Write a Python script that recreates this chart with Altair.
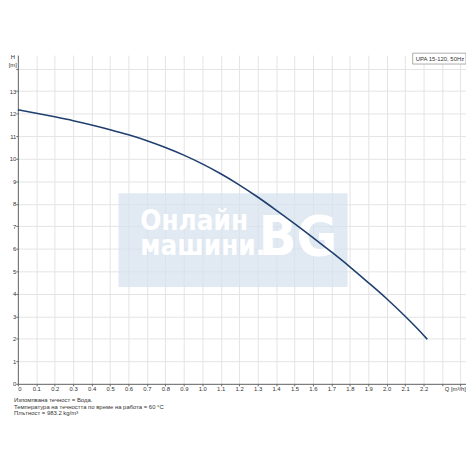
import altair as alt
import pandas as pd

# Pump curve data
q_values = [0.0, 0.1, 0.2, 0.3, 0.4, 0.5, 0.6, 0.7, 0.8, 0.9, 1.0, 1.1,
            1.2, 1.3, 1.4, 1.5, 1.6, 1.7, 1.8, 1.9, 2.0, 2.1, 2.2, 2.22]
h_values = [12.17, 12.02, 11.86, 11.69, 11.50, 11.29, 11.06, 10.80, 10.50, 10.16, 9.77, 9.33,
            8.84, 8.30, 7.72, 7.12, 6.50, 5.86, 5.20, 4.50, 3.78, 3.00, 2.16, 1.98]

x_ticks = [0.0, 0.1, 0.2, 0.3, 0.4, 0.5, 0.6, 0.7, 0.8, 0.9, 1.0, 1.1, 1.2,
           1.3, 1.4, 1.5, 1.6, 1.7, 1.8, 1.9, 2.0, 2.1, 2.2, 2.3, 2.4]
y_ticks = [0, 1, 2, 3, 4, 5, 6, 7, 8, 9, 10, 11, 12, 13, 14]

legend_label = "UPA 15-120, 50Hz"
x_title = "Q [m³/h]"
y_title_1 = "H"
y_title_2 = "[m]"
notes = ["Изпомпвана течност = Вода.",
         "Температура на течността по време на работа = 60 °C",
         "Плътност = 983.2 kg/m³"]
watermark = ["Онлайн", "машини.", "BG"]

FONT = "Liberation Sans"
WM_FONT = "DejaVu Sans Condensed, DejaVu Sans, Liberation Sans"
W, H = 454, 333

df = pd.DataFrame({"Q": q_values, "H": h_values})
one = pd.DataFrame({"k": [0]})

x_axis = alt.Axis(values=x_ticks, grid=True, title=None,
                  labelExpr="datum.value > 2.25 ? '' : (datum.value == 0 ? '0' : format(datum.value, '.1f'))")
y_axis = alt.Axis(values=y_ticks, grid=True, title=None,
                  labelExpr="datum.value >= 14 ? '' : datum.label")

# watermark
wm_rect = alt.Chart(one).mark_rect(fill="#d6e2ef", opacity=0.72).encode(
    x=alt.value(102), x2=alt.value(334), y=alt.value(140), y2=alt.value(235))
wm_t1 = alt.Chart(one).mark_text(text=watermark[0], font=WM_FONT, fontWeight="bold",
                                 fontSize=28, color="white", align="left", baseline="alphabetic").encode(
    x=alt.value(124), y=alt.value(177))
wm_t2 = alt.Chart(one).mark_text(text=watermark[1], font=WM_FONT, fontWeight="bold",
                                 fontSize=28, color="white", align="left", baseline="alphabetic").encode(
    x=alt.value(124), y=alt.value(202))
wm_t3 = alt.Chart(one).mark_text(text=watermark[2], font=WM_FONT, fontWeight="bold",
                                 fontSize=56, color="white", align="left", baseline="alphabetic").encode(
    x=alt.value(244), y=alt.value(202))

line = alt.Chart(df).mark_line(color="#1f3f6e", strokeWidth=1.6, interpolate="monotone").encode(
    x=alt.X("Q:Q", scale=alt.Scale(domain=[0, 2.43], nice=False, zero=True), axis=x_axis),
    y=alt.Y("H:Q", scale=alt.Scale(domain=[0, 14.6], nice=False, zero=True), axis=y_axis),
)

# legend box
leg_box = alt.Chart(one).mark_rect(fill="white", stroke="#999999", strokeWidth=0.8).encode(
    x=alt.value(400), x2=alt.value(454), y=alt.value(-2), y2=alt.value(9))
leg_text = alt.Chart(one).mark_text(text=legend_label, font=FONT, fontSize=6, color="#333333",
                                    align="left", baseline="middle").encode(
    x=alt.value(403), y=alt.value(3.5))

# axis titles
y_t1 = alt.Chart(one).mark_text(text=y_title_1, font=FONT, fontSize=6, color="#333333",
                                align="center", baseline="middle").encode(
    x=alt.value(-5), y=alt.value(2))
y_t2 = alt.Chart(one).mark_text(text=y_title_2, font=FONT, fontSize=6, color="#333333",
                                align="right", baseline="middle").encode(
    x=alt.value(-1), y=alt.value(10))
x_t = alt.Chart(one).mark_text(text=x_title, font=FONT, fontSize=6, color="#333333",
                               align="right", baseline="middle").encode(
    x=alt.value(454), y=alt.value(338))

notes_t = alt.Chart(one).mark_text(text=notes, font=FONT, fontSize=6, color="#333333",
                                   align="left", baseline="middle", lineHeight=7).encode(
    x=alt.value(-4), y=alt.value(349))

chart = alt.layer(wm_rect, wm_t1, wm_t2, wm_t3, line, leg_box, leg_text, y_t1, y_t2, x_t, notes_t).properties(
    width=W, height=H,
    autosize=alt.AutoSizeParams(type="none"),
    padding={"left": 10, "top": 45, "right": 0, "bottom": 45},
).configure_view(stroke=None).configure_axis(
    labelFont=FONT, labelFontSize=6, labelColor="#333333",
    tickColor="#666666", domainColor="#666666", tickSize=2, labelPadding=0,
    gridColor="#e4e4e4", gridWidth=1,
)

chart.save("out.html", embed_options={"renderer": "svg", "actions": False})
